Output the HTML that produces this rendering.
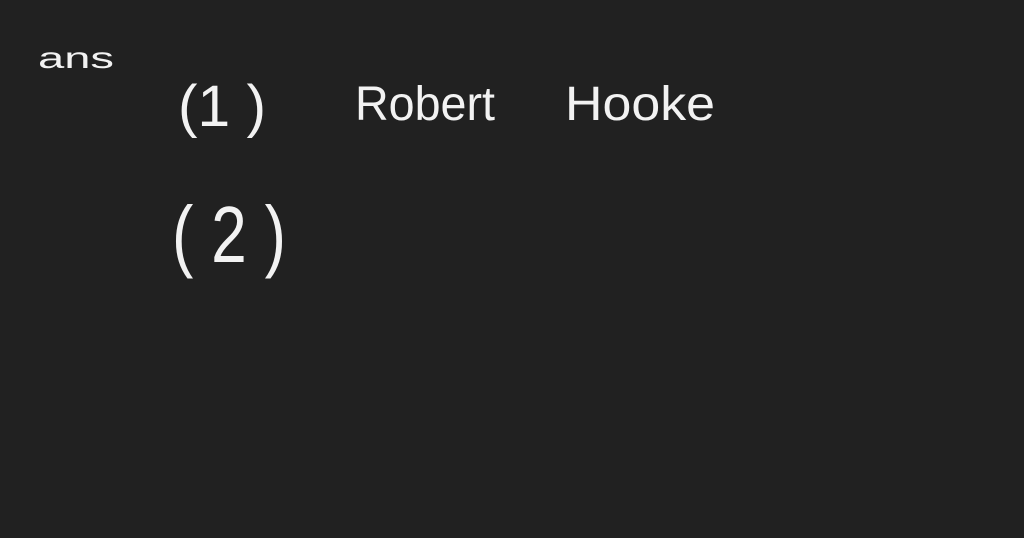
<!DOCTYPE html>
<html>
<head>
<meta charset="utf-8">
<style>
  html, body { margin:0; padding:0; background:#212121; }
  body { width:1024px; height:538px; overflow:hidden; }
  svg { display:block; }
  text { fill:#f2f2f2; font-family:"Liberation Sans", sans-serif; }
</style>
</head>
<body>
<svg width="1024" height="538" viewBox="0 0 1024 538" xmlns="http://www.w3.org/2000/svg">
  <rect width="1024" height="538" fill="#212121"/>
  <text x="38" y="68" font-size="30" textLength="76" lengthAdjust="spacingAndGlyphs">ans</text>
  <text x="178" y="126" font-size="58" textLength="88" lengthAdjust="spacingAndGlyphs">(1 )</text>
  <text x="355" y="120" font-size="48" textLength="140" lengthAdjust="spacingAndGlyphs">Robert</text>
  <text x="565" y="120" font-size="48" textLength="150" lengthAdjust="spacingAndGlyphs">Hooke</text>
  <text x="172" y="262" font-size="80" textLength="114" lengthAdjust="spacingAndGlyphs">( 2 )</text>
</svg>
</body>
</html>
